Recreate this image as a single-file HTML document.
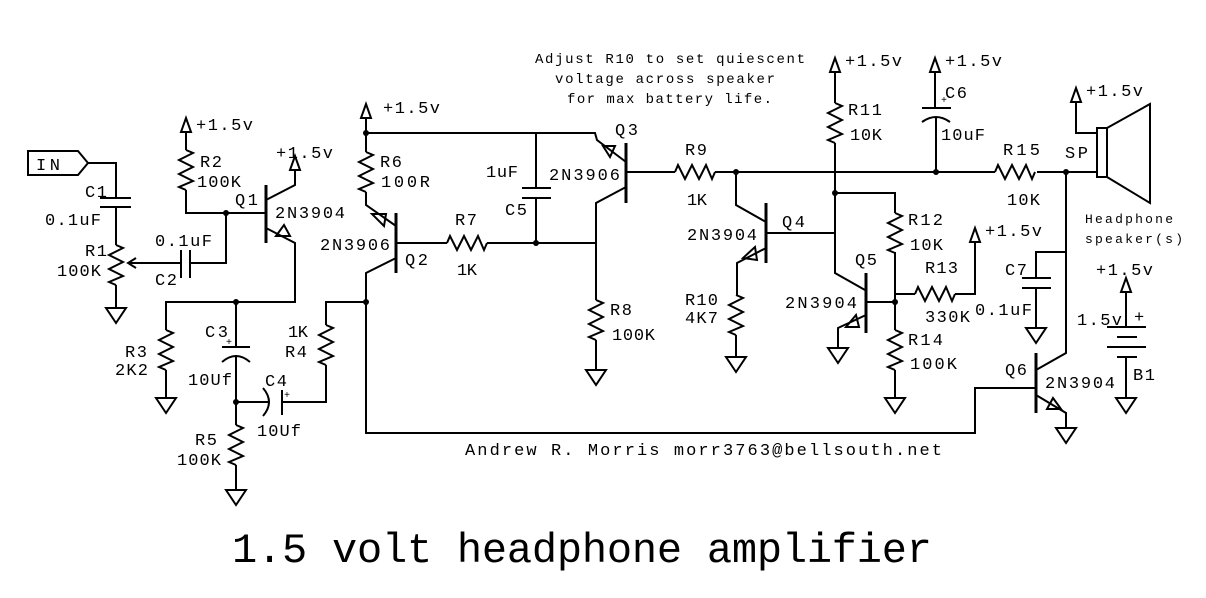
<!DOCTYPE html>
<html><head><meta charset="utf-8"><style>
html,body{margin:0;padding:0;background:#fff;}
svg{display:block;}
text{font-family:"Liberation Mono",monospace;font-size:17px;fill:#000;}
</style></head><body>
<svg width="1206" height="598" viewBox="0 0 1206 598" xmlns="http://www.w3.org/2000/svg">
<defs>
<path id="rv" d="M0 0 L7 3 L-7 10 L7 17 L-7 24 L7 31 L-7 37 L0 40" fill="none" stroke="#000" stroke-width="2"/>
<path id="rh" d="M0 0 L3 -7 L10 7 L17 -7 L24 7 L31 -7 L37 7 L40 0" fill="none" stroke="#000" stroke-width="2"/>
<path id="gnd" d="M-10 0 L10 0 L0 15 Z" fill="#fff" stroke="#000" stroke-width="2"/>
<path id="vcc" d="M0 0 L-5 14 L5 14 Z" fill="#fff" stroke="#000" stroke-width="2"/>
</defs>
<rect width="1206" height="598" fill="#fff"/>
<g fill="none" stroke="#000" stroke-width="2">
<polygon points="28,151 78,151 88,163 78,175 28,175"/>
<path d="M88 163 H116 V198 M100 198 H131 M100 207 H131 M116 207 V245 M116 285 V308"/>
<path d="M128 263 H181 M136 258 L128 263 L136 268 M181 250 V278 M190 250 V278 M190 263 H226 V213"/>
<path d="M186 132 V150 M186 190 V213 H266"/>
<path d="M266 185 V243" stroke-width="3"/>
<path d="M266 200 L295 185 V170 M266 228 L295 243 V302 H166 V330 M166 370 V398"/>
<polygon points="276,236 290,236 284,225"/>
<path d="M236 302 V347 M222 347 H250 M222 362 Q236 350 250 362 M236 355 V425 M236 465 V490"/>
<path d="M236 402 H268 M263 388 Q275 402 263 416 M282 390 V415 M282 402 H326 V365 M326 325 V302 H366"/>
<path d="M366 133 V152 M366 192 V205 L396 226"/>
<polygon points="372,214 386,214 384,226"/>
<path d="M396 213 V273" stroke-width="3"/>
<path d="M396 243 H447 M487 243 H596 M396 258 L366 273 V433 H975 V388 H1036"/>
<path d="M366 133 H595 L597 140 L626 162"/>
<polygon points="603,146 615,146 610,157"/>
<path d="M626 143 V203" stroke-width="3"/>
<path d="M626 172 H675 M626 187 L596 203 V300 M596 340 V370"/>
<path d="M536 133 V188 M522 188 H551 M522 198 H551 M536 198 V243"/>
<path d="M715 172 H995 M1037 172 H1097"/>
<path d="M736 172 V205 L766 222"/>
<path d="M766 203 V263" stroke-width="3"/>
<path d="M766 233 H835 M766 248 L737 263 V295 M736 335 V357"/>
<polygon points="743,258 757,260 755,247"/>
<path d="M835 72 V103 M835 143 V273 L865 290 M835 193 H895 V213 M895 252 V330 M895 370 V398"/>
<path d="M866 273 V333" stroke-width="3"/>
<path d="M866 302 H895 M866 315 L838 328 V348"/>
<polygon points="846,327 859,327 856,315"/>
<path d="M895 294 H915 M955 294 H975 V242"/>
<path d="M935 73 V108 M922 108 H951 M922 122 Q936 112 950 122 M936 118 V172"/>
<rect x="1097" y="128" width="10" height="49"/>
<path d="M1107 128 L1150 104 V203 L1107 177 M1097 133 H1076 V103"/>
<path d="M1066 172 V353 L1036 370 M1066 252 H1036 V278 M1022 278 H1051 M1022 288 H1051 M1036 288 V328"/>
<path d="M1036 353 V413" stroke-width="3"/>
<path d="M1036 395 L1066 413 V428"/>
<polygon points="1047,409 1061,409 1053,398"/>
<path d="M1126 292 V327 M1107 327 H1146 M1117 337 H1137 M1107 347 H1146 M1117 357 H1137 M1126 357 V398"/>
</g>
<use href="#rv" x="116" y="245"/>
<use href="#rv" x="186" y="150"/>
<use href="#rv" x="166" y="330"/>
<use href="#rv" x="326" y="325"/>
<use href="#rv" x="236" y="425"/>
<use href="#rv" x="366" y="152"/>
<use href="#rh" x="447" y="243"/>
<use href="#rv" x="596" y="300"/>
<use href="#rh" x="675" y="172"/>
<use href="#rv" x="736" y="295"/>
<use href="#rv" x="835" y="103"/>
<use href="#rv" x="895" y="213"/>
<use href="#rv" x="895" y="330"/>
<use href="#rh" x="915" y="294"/>
<use href="#rh" x="995" y="172"/>
<use href="#gnd" x="116" y="308"/>
<use href="#gnd" x="166" y="398"/>
<use href="#gnd" x="236" y="490"/>
<use href="#gnd" x="596" y="370"/>
<use href="#gnd" x="736" y="357"/>
<use href="#gnd" x="838" y="348"/>
<use href="#gnd" x="895" y="398"/>
<use href="#gnd" x="1036" y="328"/>
<use href="#gnd" x="1066" y="428"/>
<use href="#gnd" x="1126" y="398"/>
<use href="#vcc" x="186" y="118"/>
<use href="#vcc" x="295" y="156"/>
<use href="#vcc" x="366" y="104"/>
<use href="#vcc" x="835" y="58"/>
<use href="#vcc" x="935" y="58"/>
<use href="#vcc" x="975" y="228"/>
<use href="#vcc" x="1076" y="88"/>
<use href="#vcc" x="1126" y="278"/>
<path d="M366 118 V133" stroke="#000" stroke-width="2"/>
<g fill="#000">
<circle cx="226" cy="213" r="3"/><circle cx="236" cy="302" r="3"/><circle cx="236" cy="402" r="3"/>
<circle cx="366" cy="133" r="3"/><circle cx="366" cy="302" r="3"/><circle cx="536" cy="243" r="3"/>
<circle cx="736" cy="172" r="3"/><circle cx="835" cy="193" r="3"/><circle cx="895" cy="302" r="3"/>
<circle cx="936" cy="172" r="3"/><circle cx="1066" cy="172" r="3"/>
</g>
<text x="36" y="170" textLength="24">IN</text>
<text x="85" y="197" textLength="22">C1</text>
<text x="45" y="225" textLength="56">0.1uF</text>
<text x="85" y="256" textLength="22">R1</text>
<text x="57" y="276" textLength="44">100K</text>
<text x="155" y="246" textLength="57">0.1uF</text>
<text x="155" y="285" textLength="22">C2</text>
<text x="196" y="130" textLength="57">+1.5v</text>
<text x="276" y="158" textLength="57">+1.5v</text>
<text x="200" y="167" textLength="22">R2</text>
<text x="197" y="187" textLength="44">100K</text>
<text x="235" y="205" textLength="23">Q1</text>
<text x="275" y="218" textLength="70">2N3904</text>
<text x="125" y="357" textLength="22">R3</text>
<text x="115" y="375" textLength="33">2K2</text>
<text x="205" y="337" textLength="23">C3</text>
<text x="226" y="345" style="font-size:10px">+</text>
<text x="188" y="385" textLength="44">10Uf</text>
<text x="265" y="386" textLength="22">C4</text>
<text x="284" y="398" style="font-size:10px">+</text>
<text x="257" y="436" textLength="44">10Uf</text>
<text x="195" y="445" textLength="22">R5</text>
<text x="177" y="465" textLength="44">100K</text>
<text x="288" y="337" textLength="20">1K</text>
<text x="285" y="357" textLength="22">R4</text>
<text x="383" y="113" textLength="57">+1.5v</text>
<text x="380" y="167" textLength="22">R6</text>
<text x="381" y="187" textLength="49">100R</text>
<text x="320" y="250" textLength="70">2N3906</text>
<text x="405" y="265" textLength="23">Q2</text>
<text x="455" y="225" textLength="22">R7</text>
<text x="457" y="275" textLength="20">1K</text>
<text x="535" y="63" textLength="270" style="font-size:14px">Adjust R10 to set quiescent</text>
<text x="555" y="83" textLength="220" style="font-size:14px">voltage across speaker</text>
<text x="567" y="103" textLength="205" style="font-size:14px">for max battery life.</text>
<text x="615" y="135" textLength="23">Q3</text>
<text x="486" y="177" textLength="32">1uF</text>
<text x="549" y="180" textLength="71">2N3906</text>
<text x="505" y="215" textLength="22">C5</text>
<text x="610" y="315" textLength="22">R8</text>
<text x="612" y="340" textLength="43">100K</text>
<text x="685" y="155" textLength="22">R9</text>
<text x="687" y="205" textLength="20">1K</text>
<text x="782" y="227" textLength="23">Q4</text>
<text x="687" y="240" textLength="70">2N3904</text>
<text x="685" y="305" textLength="33">R10</text>
<text x="685" y="323" textLength="33">4K7</text>
<text x="845" y="66" textLength="57">+1.5v</text>
<text x="945" y="66" textLength="57">+1.5v</text>
<text x="848" y="115" textLength="34">R11</text>
<text x="850" y="140" textLength="32">10K</text>
<text x="945" y="98" textLength="22">C6</text>
<text x="941" y="103" style="font-size:10px">+</text>
<text x="941" y="140" textLength="44">10uF</text>
<text x="1003" y="155" textLength="37">R15</text>
<text x="1007" y="205" textLength="33">10K</text>
<text x="1065" y="158" textLength="23">SP</text>
<text x="1086" y="96" textLength="57">+1.5v</text>
<text x="908" y="225" textLength="35">R12</text>
<text x="910" y="250" textLength="33">10K</text>
<text x="855" y="265" textLength="22">Q5</text>
<text x="785" y="308" textLength="72">2N3904</text>
<text x="985" y="236" textLength="57">+1.5v</text>
<text x="925" y="273" textLength="33">R13</text>
<text x="925" y="322" textLength="45">330K</text>
<text x="975" y="315" textLength="57">0.1uF</text>
<text x="1005" y="275" textLength="22">C7</text>
<text x="908" y="345" textLength="35">R14</text>
<text x="910" y="369" textLength="47">100K</text>
<text x="1005" y="375" textLength="22">Q6</text>
<text x="1045" y="388" textLength="70">2N3904</text>
<text x="1085" y="223" textLength="88" style="font-size:13px">Headphone</text>
<text x="1085" y="243" textLength="98" style="font-size:13px">speaker(s)</text>
<text x="1096" y="275" textLength="57">+1.5v</text>
<text x="1077" y="325" textLength="45">1.5v</text>
<text x="1134" y="322" textLength="13">+</text>
<text x="1133" y="380" textLength="22">B1</text>
<text x="465" y="455" textLength="477">Andrew R.  Morris  morr3763@bellsouth.net</text>
<text x="232" y="562" textLength="700" style="font-size:42px">1.5 volt headphone amplifier</text>
</svg>
</body></html>
